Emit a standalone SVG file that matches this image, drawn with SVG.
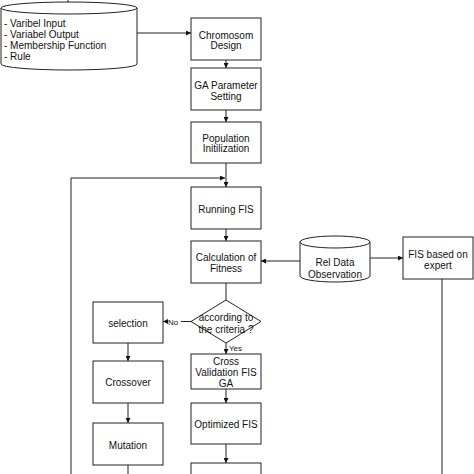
<svg xmlns="http://www.w3.org/2000/svg" width="474" height="474" viewBox="0 0 474 474">
<defs>
<marker id="ah" viewBox="0 0 10 10" refX="10" refY="5" markerWidth="5" markerHeight="5" orient="auto" markerUnits="userSpaceOnUse">
<path d="M0,0 L10,5 L0,10 z" fill="#111"/>
</marker>
</defs>
<style>
.box{fill:#fff;stroke:#222;stroke-width:1}
.t{font-family:"Liberation Sans",Arial,sans-serif;font-size:10px;fill:#111;text-anchor:middle}
.tl{font-family:"Liberation Sans",Arial,sans-serif;font-size:10px;fill:#111}
.s{font-family:"Liberation Sans",Arial,sans-serif;font-size:8px;fill:#111}
.c{fill:none;stroke:#222;stroke-width:1}
.a{fill:none;stroke:#222;stroke-width:1;marker-end:url(#ah)}
</style>
<rect width="474" height="474" fill="#fff"/>
<g id="connectors">
<path class="a" d="M68,-2 V7"/>
<path class="a" d="M137,33 H191"/>
<path class="a" d="M226,60 V68"/>
<path class="a" d="M226,110 V122"/>
<path class="a" d="M226,163 V187"/>
<path class="a" d="M71,474 V178 H225"/>
<path class="a" d="M226,229 V241"/>
<path class="a" d="M300,261 H261"/>
<path class="a" d="M370,258 H403"/>
<path class="c" d="M442,279 V474"/>
<path class="c" d="M226,283 V300"/>
<path class="c" d="M191,321.5 H181"/>
<path class="a" d="M168,321.5 H163"/>
<text class="s" x="168" y="324.5">No</text>
<path class="a" d="M226,343 V354"/>
<text class="s" x="229" y="351">Yes</text>
<path class="a" d="M128,343 V361"/>
<path class="a" d="M128,403 V423"/>
<path class="c" d="M128,465 V474"/>
<path class="a" d="M226,389 V403"/>
<path class="a" d="M226,444 V463"/>
</g>
<g id="input-data">
<path class="box" d="M1,8 A68,6 0 0 1 137,8 V64 A68,6 0 0 1 1,64 Z"/>
<path class="c" d="M1,8 A68,6 0 0 0 137,8"/>
<text class="tl" x="4" y="27">- Varibel Input</text>
<text class="tl" x="4" y="38">- Variabel Output</text>
<text class="tl" x="4" y="49">- Membership Function</text>
<text class="tl" x="4" y="60">- Rule</text>
</g>
<g id="chromosom-design">
<rect class="box" x="191" y="18" width="70" height="42"/>
<text class="t" x="226" y="38.5">Chromosom</text>
<text class="t" x="226" y="49">Design</text>
</g>
<g id="ga-parameter">
<rect class="box" x="191" y="68" width="70" height="42"/>
<text class="t" x="226" y="88.5">GA Parameter</text>
<text class="t" x="226" y="99.5">Setting</text>
</g>
<g id="population">
<rect class="box" x="191" y="122" width="70" height="41"/>
<text class="t" x="226" y="141.5">Population</text>
<text class="t" x="226" y="152">Initilization</text>
</g>
<g id="running-fis">
<rect class="box" x="191" y="187" width="70" height="42"/>
<text class="t" x="226" y="212.5">Running FIS</text>
</g>
<g id="calc-fitness">
<rect class="box" x="191" y="241" width="70" height="42"/>
<text class="t" x="226" y="261">Calculation of</text>
<text class="t" x="226" y="272">Fitness</text>
</g>
<g id="rel-data">
<path class="box" d="M300,242 A35,6 0 0 1 370,242 V276 A35,6 0 0 1 300,276 Z"/>
<path class="c" d="M300,242 A35,6 0 0 0 370,242"/>
<text class="t" x="335" y="266">Rel Data</text>
<text class="t" x="335" y="277.5">Observation</text>
</g>
<g id="fis-expert">
<rect class="box" x="403" y="237" width="70" height="42"/>
<text class="t" x="438" y="257.5">FIS based on</text>
<text class="t" x="438" y="268.5">expert</text>
</g>
<g id="criteria">
<path class="box" d="M226,300 L261,321.5 L226,343 L191,321.5 Z"/>
<text class="t" x="226" y="321">according to</text>
<text class="t" x="226" y="333">the criteria ?</text>
</g>
<g id="selection">
<rect class="box" x="93" y="302" width="70" height="41"/>
<text class="t" x="128" y="326.5">selection</text>
</g>
<g id="crossover">
<rect class="box" x="93" y="361" width="70" height="42"/>
<text class="t" x="128" y="385.5">Crossover</text>
</g>
<g id="mutation">
<rect class="box" x="93" y="423" width="70" height="42"/>
<text class="t" x="128" y="448.5">Mutation</text>
</g>
<g id="cross-validation">
<rect class="box" x="191" y="354" width="70" height="35"/>
<text class="t" x="226" y="365">Cross</text>
<text class="t" x="226" y="376">Validation FIS</text>
<text class="t" x="226" y="387">GA</text>
</g>
<g id="optimized-fis">
<rect class="box" x="191" y="403" width="70" height="41"/>
<text class="t" x="226" y="427.5">Optimized FIS</text>
</g>
<g id="next-step">
<rect class="box" x="191" y="463" width="70" height="20"/>
</g>
</svg>
